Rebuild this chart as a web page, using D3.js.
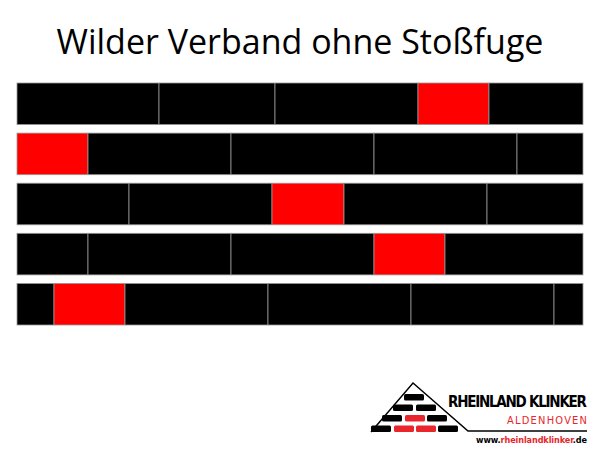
<!DOCTYPE html>
<html>
<head>
<meta charset="utf-8">
<script src="https://cdn.jsdelivr.net/npm/d3@7"></script>
<style>body{margin:0;background:#fff}</style>
</head>
<body>
<div id="VisContainer"></div>
<script>
// brick lengths per course, left to right (units: px-ish on a 566 wide wall)
rowNames = ["r1", "r2", "r3", "r4", "r5"];
rowBricks = [
  [142, 116, 143, 71, 94],
  [71, 143, 143, 143, 66],
  [112, 143, 72, 143, 96],
  [71, 143, 143, 71, 138],
  [37, 71, 143, 143, 143, 29]
];
// index of the red (half) brick in each course
redIndex = [3, 0, 2, 3, 1];

// logo bricks: [course, start, red]
logoBricks = [
  [0, 33, 0],
  [1, 22, 0], [1, 45, 0],
  [2, 11, 0], [2, 34, 1], [2, 56, 0],
  [3, 0, 0], [3, 23, 1], [3, 45, 1], [3, 67, 0]
];

width = 600; height = 450;
svg = d3.select("#VisContainer").append("svg")
  .attr("width", width).attr("height", height);

svg.append("text")
  .attr("x", 300).attr("y", 54)
  .attr("text-anchor", "middle")
  .style("font-family", "Open Sans")
  .style("font-size", "34px")
  .text("Wilder Verband ohne Stoßfuge");

x = d3.scaleLinear().domain([0, 566]).range([17, 583]);
y = d3.scaleBand().domain(rowNames).range([83, 325]).paddingInner(0.17).paddingOuter(0);

rows = svg.selectAll("g.row").data(rowBricks).enter().append("g")
  .attr("class", "row")
  .attr("transform", function(d, i){ return "translate(0," + y(rowNames[i]) + ")"; });

rows.selectAll("rect").data(function(d, i){
    var pos = 0;
    return d.map(function(w, j){
      var b = {start: pos, w: w, red: j == redIndex[i]};
      pos += w;
      return b;
    });
  }).enter().append("rect")
  .attr("x", function(d){ return x(d.start); })
  .attr("width", function(d){ return x(d.start + d.w) - x(d.start); })
  .attr("height", y.bandwidth())
  .attr("fill", function(d){ return d.red ? "#ff0000" : "#000"; })
  .attr("stroke", "#999")
  .attr("stroke-width", 0.8);

// logo
logo = svg.append("g");
logo.append("path")
  .attr("d", "M371,432 L413,383 L468,431 L587,431")
  .attr("fill", "none").attr("stroke", "#000").attr("stroke-width", 1.5);
logo.selectAll("rect").data(logoBricks).enter().append("rect")
  .attr("x", function(d){ return 371 + d[1]; })
  .attr("y", function(d){ return 394 + d[0] * 10.5; })
  .attr("width", 20).attr("height", 6.5).attr("rx", 1.5)
  .attr("fill", function(d){ return d[2] ? "#e8262b" : "#000"; });
logo.append("text")
  .attr("x", 587).attr("y", 407).attr("text-anchor", "end")
  .style("font-family", "Liberation Sans Narrow, DejaVu Sans Condensed")
  .style("font-size", "15px").style("font-weight", "bold")
  .attr("textLength", 139)
  .text("RHEINLAND KLINKER");
logo.append("text")
  .attr("x", 587).attr("y", 424).attr("text-anchor", "end")
  .style("font-family", "DejaVu Sans Condensed")
  .style("font-size", "11px").attr("fill", "#e8262b")
  .attr("textLength", 80)
  .text("ALDENHOVEN");
www = logo.append("text")
  .attr("x", 587).attr("y", 443).attr("text-anchor", "end")
  .style("font-family", "DejaVu Sans Condensed")
  .style("font-size", "9px").style("font-weight", "bold")
  .attr("textLength", 111);
www.append("tspan").text("www.");
www.append("tspan").attr("fill", "#e8262b").text("rheinlandklinker");
www.append("tspan").text(".de");
</script>
</body>
</html>
